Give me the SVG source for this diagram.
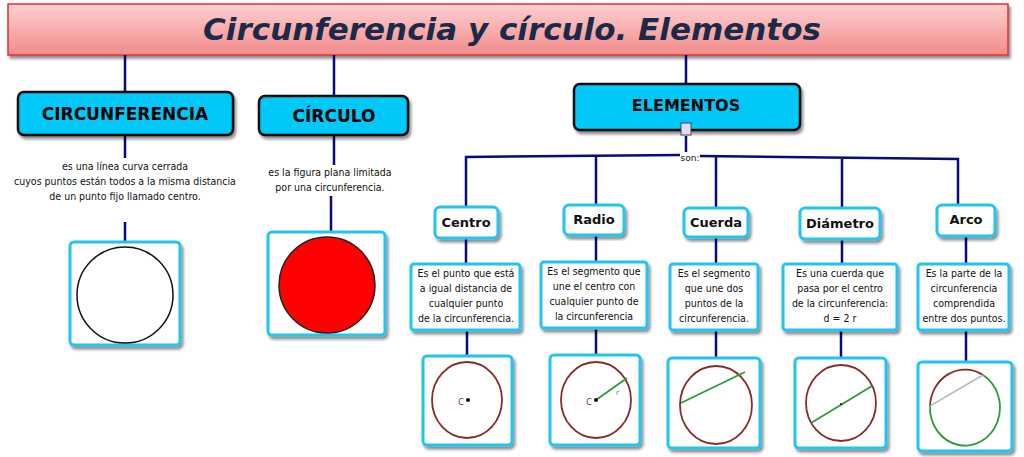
<svg xmlns="http://www.w3.org/2000/svg" width="1024" height="457" viewBox="0 0 1024 457">
<defs>
<linearGradient id="pink" x1="0" y1="0" x2="0" y2="1"><stop offset="0" stop-color="#ffd0d0"/><stop offset="1" stop-color="#f28a8a"/></linearGradient>
<filter id="sh" x="-10%" y="-10%" width="130%" height="130%"><feDropShadow dx="2" dy="3" stdDeviation="1.5" flood-color="#000" flood-opacity="0.45"/></filter>
</defs>
<style>
.hd{fill:#00c8f8;stroke:#111;stroke-width:2.5;filter:url(#sh)}
.lb{fill:#fff;stroke:#22c4f0;stroke-width:3;filter:url(#sh)}
.ln{stroke:#0a0a78;stroke-width:2.5;fill:none}
.ht{font-family:"DejaVu Sans",sans-serif;font-weight:bold;fill:#000;text-anchor:middle}
.t{font-family:"DejaVu Sans Condensed","DejaVu Sans",sans-serif;font-size:10.5px;fill:#111;text-anchor:middle}
.lt{font-family:"DejaVu Sans",sans-serif;font-size:13px;font-weight:bold;fill:#111;text-anchor:middle}
.cb{fill:none;stroke:#8b2a2a;stroke-width:1.8}
.g{stroke:#2a9a3a;stroke-width:1.8;fill:none}
</style>
<g id="title"><rect x="8" y="4" width="1000" height="51" fill="url(#pink)" stroke="#e03030" stroke-width="1.5" filter="url(#sh)"/>
<text x="512" y="40" font-family="DejaVu Sans,sans-serif" font-size="31" font-style="italic" font-weight="bold" fill="#1a2a48" text-anchor="middle">Circunferencia y círculo. Elementos</text></g>
<g id="connectors">
<path class="ln" d="M125 55V92M334 55V96M686 55V84M125 135V158M125 222V242M334 135V165M331 196V232M686 136V152"/>
<path class="ln" d="M466 208V157L680 155M700 156L958 159V205M596 205V156M716 208V157M842 208V158"/>
<path class="ln" d="M466 238V264M596 235V262M716 237V264M842 239V264M966 236V264"/>
<path class="ln" d="M467 330V356M596 328V355M716 330V358M841 330V358M966 330V362"/>
<text x="690" y="161" font-family="DejaVu Sans,sans-serif" font-size="9" text-anchor="middle" fill="#111">son:</text>
</g>
<g id="circunferencia"><rect class="hd" x="18" y="92" width="215" height="43" rx="6"/><text class="ht" x="125" y="120" font-size="17">CIRCUNFERENCIA</text>
<text class="t" x="125" y="170">es una línea curva cerrada</text><text class="t" x="125" y="185">cuyos puntos están todos a la misma distancia</text><text class="t" x="125" y="200">de un punto fijo llamado centro.</text>
<rect class="lb" x="70" y="242" width="110" height="103" rx="4"/><circle cx="125" cy="295" r="48" fill="#fff" stroke="#111" stroke-width="1.5"/></g>
<g id="circulo"><rect class="hd" x="259" y="96" width="149" height="39" rx="6"/><text class="ht" x="334" y="122" font-size="17">CÍRCULO</text>
<text class="t" x="330" y="176">es la figura plana limitada</text><text class="t" x="330" y="191">por una circunferencia.</text>
<rect class="lb" x="268" y="232" width="117" height="103" rx="4"/><circle cx="327" cy="285" r="48" fill="#f00" stroke="#222" stroke-width="1.5"/></g>
<g id="elementos"><rect class="hd" x="574" y="84" width="226" height="46" rx="6"/><text class="ht" x="686" y="111" font-size="16">ELEMENTOS</text>
<rect x="681" y="123" width="10" height="12" fill="#dde" stroke="#445" stroke-width="1"/></g>
<g id="centro"><rect class="lb" x="435" y="207" width="63" height="31" rx="5"/><text class="lt" x="466" y="227">Centro</text>
<rect class="lb" x="411" y="264" width="109" height="66" rx="3"/>
<text class="t" x="466" y="277">Es el punto que está</text><text class="t" x="466" y="292">a igual distancia de</text><text class="t" x="466" y="307">cualquier punto</text><text class="t" x="466" y="322">de la circunferencia.</text>
<rect class="lb" x="423" y="356" width="89" height="89" rx="4"/><ellipse class="cb" cx="467" cy="400" rx="35" ry="38"/><circle cx="468" cy="400" r="2" fill="#300"/><text x="461" y="405" font-family="DejaVu Sans,sans-serif" font-size="8" fill="#8b2a2a" text-anchor="middle">C</text></g>
<g id="radio"><rect class="lb" x="564" y="205" width="60" height="30" rx="5"/><text class="lt" x="594" y="224">Radio</text>
<rect class="lb" x="541" y="262" width="106" height="66" rx="3"/>
<text class="t" x="594" y="275">Es el segmento que</text><text class="t" x="594" y="290">une el centro con</text><text class="t" x="594" y="305">cualquier punto de</text><text class="t" x="594" y="320">la circunferencia</text>
<rect class="lb" x="550" y="355" width="90" height="90" rx="4"/><ellipse class="cb" cx="596" cy="400" rx="35" ry="38"/><line class="g" x1="596" y1="400" x2="627" y2="378"/><circle cx="596" cy="400" r="2" fill="#300"/><text x="589" y="405" font-family="DejaVu Sans,sans-serif" font-size="8" fill="#8b2a2a" text-anchor="middle">C</text><text x="616" y="395" font-family="DejaVu Sans,sans-serif" font-size="7" fill="#2a9a3a">r</text></g>
<g id="cuerda"><rect class="lb" x="684" y="208" width="64" height="29" rx="5"/><text class="lt" x="716" y="227">Cuerda</text>
<rect class="lb" x="670" y="264" width="88" height="66" rx="3"/>
<text class="t" x="714" y="277">Es el segmento</text><text class="t" x="714" y="292">que une dos</text><text class="t" x="714" y="307">puntos de la</text><text class="t" x="714" y="322">circunferencia.</text>
<rect class="lb" x="668" y="358" width="92" height="90" rx="4"/><ellipse class="cb" cx="716" cy="405" rx="36" ry="39"/><line class="g" x1="681" y1="403" x2="745" y2="372"/></g>
<g id="diametro"><rect class="lb" x="800" y="208" width="80" height="31" rx="5"/><text class="lt" x="840" y="228">Diámetro</text>
<rect class="lb" x="783" y="264" width="114" height="66" rx="3"/>
<text class="t" x="840" y="277">Es una cuerda que</text><text class="t" x="840" y="292">pasa por el centro</text><text class="t" x="840" y="307">de la circunferencia:</text><text class="t" x="840" y="322">d = 2 r</text>
<rect class="lb" x="795" y="358" width="91" height="90" rx="4"/><ellipse class="cb" cx="841" cy="403" rx="35" ry="38"/><line class="g" x1="811" y1="423" x2="872" y2="386"/><circle cx="841" cy="404" r="1" fill="#111"/></g>
<g id="arco"><rect class="lb" x="937" y="205" width="58" height="31" rx="5"/><text class="lt" x="966" y="224">Arco</text>
<rect class="lb" x="918" y="264" width="91" height="66" rx="3"/>
<text class="t" x="964" y="277">Es la parte de la</text><text class="t" x="964" y="292">circunferencia</text><text class="t" x="964" y="307">comprendida</text><text class="t" x="964" y="322">entre dos puntos.</text>
<rect class="lb" x="918" y="362" width="94" height="89" rx="4"/>
<path class="g" d="M930 406A35 38 0 1 0 983 375"/><path class="cb" d="M930 406A35 38 0 0 1 983 375"/><line x1="930" y1="406" x2="983" y2="375" stroke="#bbb" stroke-width="1.5"/></g>
</svg>
